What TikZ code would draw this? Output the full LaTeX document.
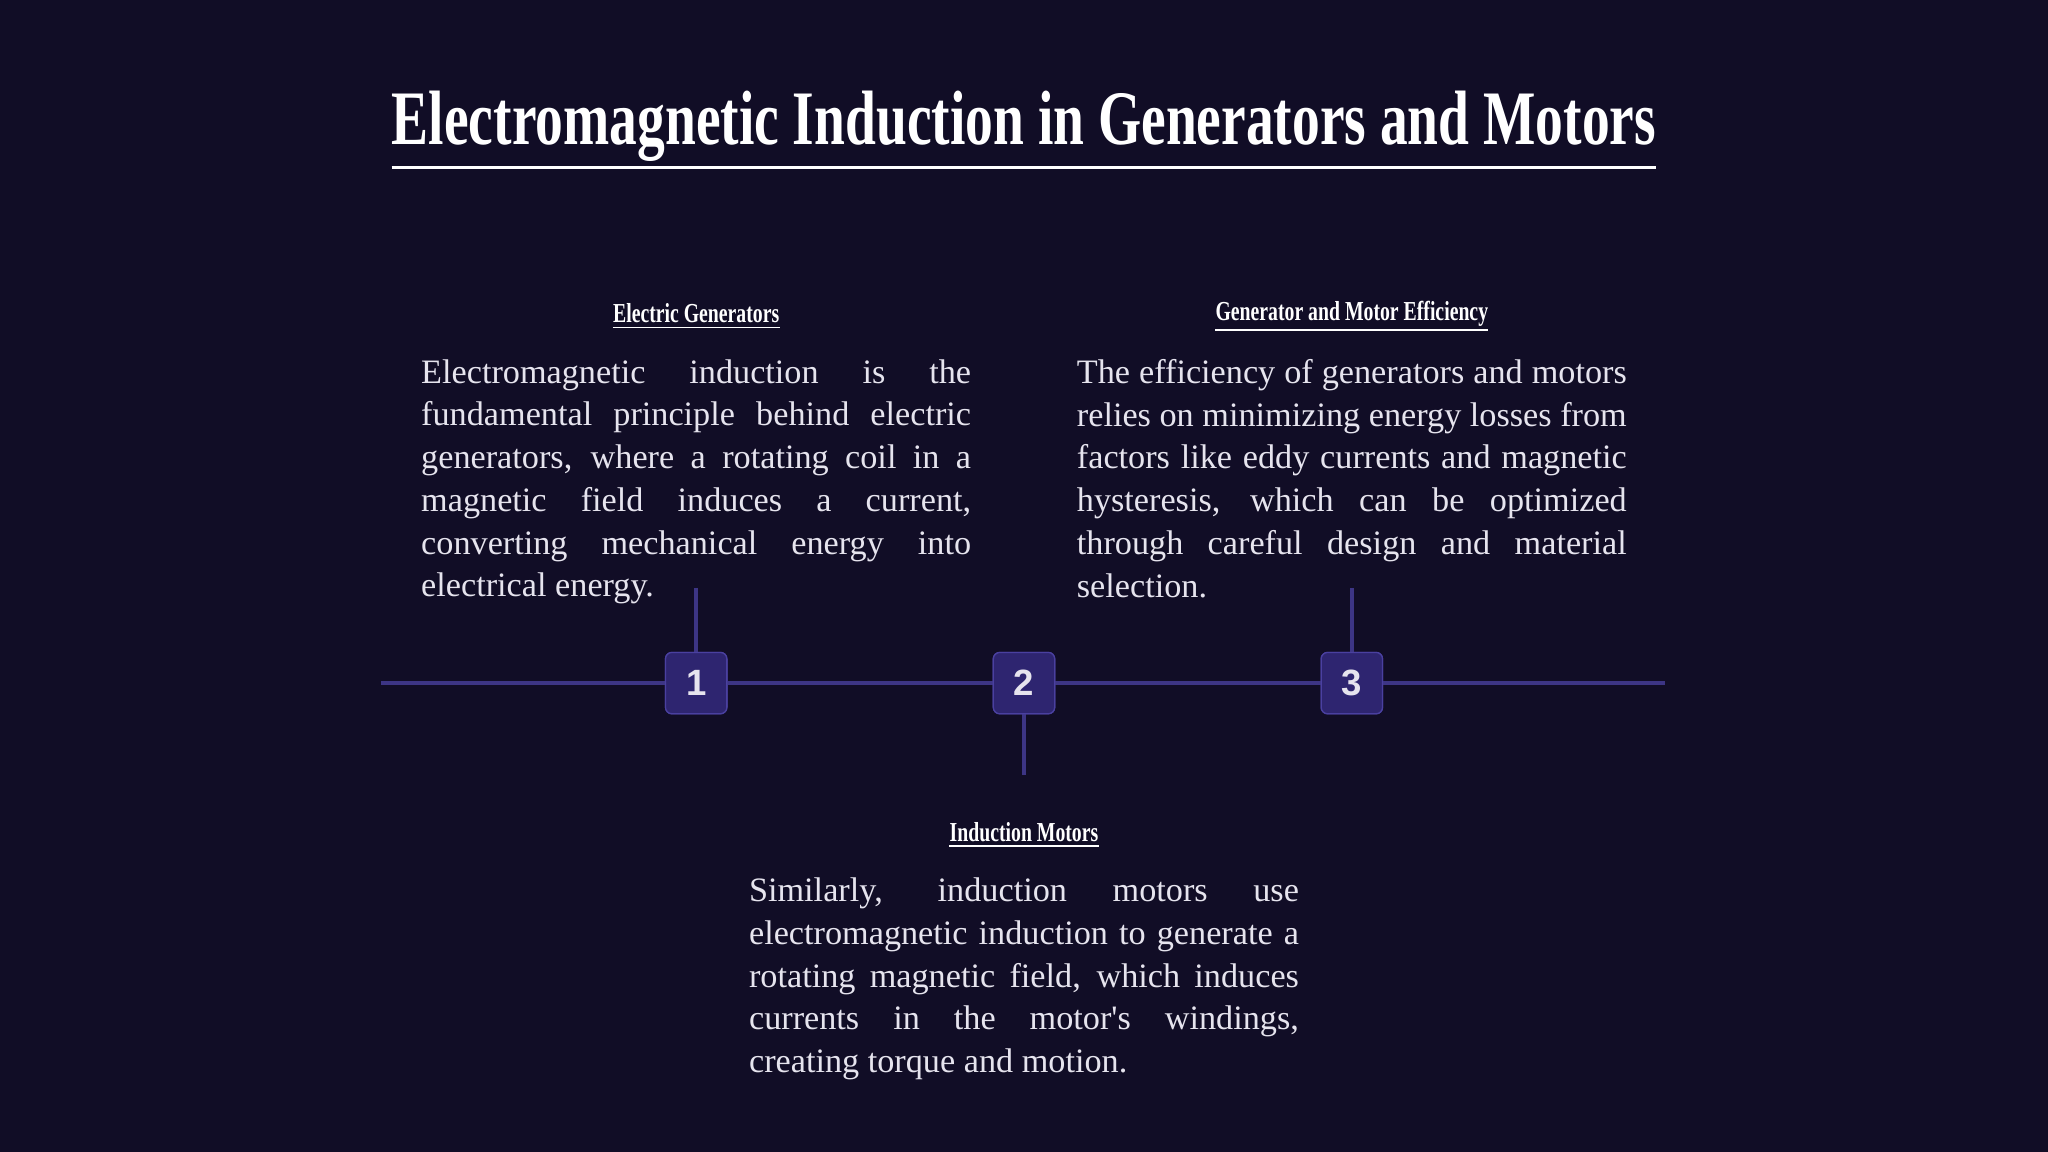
\documentclass[tikz,border=0pt]{standalone}
\usepackage{fontspec}
\setmainfont{Liberation Serif}
\newfontfamily\headfont[FakeStretch=0.72]{Liberation Serif}
\newfontfamily\numfont{Liberation Sans}
\newfontfamily\apofont[Ligatures=TeXOff]{Liberation Serif}
\newcommand\nohy{\hyphenpenalty=10000\exhyphenpenalty=10000\relax}
\definecolor{bg}{HTML}{110D26}
\definecolor{lineC}{HTML}{3D3585}
\definecolor{boxF}{HTML}{2E2570}
\definecolor{boxD}{HTML}{4A40A0}
\definecolor{txt}{HTML}{E6E4EE}
\tikzset{
 body/.style={text=txt,font=\fontsize{26.2}{32.7}\selectfont,text width=421pt,align=justify,inner sep=0pt,anchor=north},
 head/.style={text=white,font=\headfont\bfseries\fontsize{21}{24}\selectfont,inner sep=0pt},
 numbox/.style={draw=boxD,line width=1pt,fill=boxF,rounded corners=5pt,minimum size=47pt,text=txt,font=\numfont\bfseries\fontsize{28}{28}\selectfont},
 tl/.style={draw=lineC,line width=3.5pt},
 ul/.style={draw=white,line width=1.2pt}
}
\begin{document}
\begin{tikzpicture}[x=1pt,y=-1pt]
\fill[bg] (0,0) rectangle (1568,882);
\useasboundingbox (0,0) rectangle (1568,882);
\node[text=white,font=\headfont\bfseries\fontsize{59}{62}\selectfont,inner sep=0pt] (title) at (784,97) {Electromagnetic Induction in Generators and Motors};
\draw[ul,line width=1.8pt] ([yshift=-4pt]title.south west) -- ([yshift=-4pt]title.south east);
% timeline
\coordinate (L) at (292,523); \coordinate (R) at (1275,523);
\node[numbox] (n1) at (533,523) {1};
\node[numbox] (n2) at (784,523) {2};
\node[numbox] (n3) at (1035,523) {3};
\coordinate (s1) at (533,450); \coordinate (s2) at (784,593); \coordinate (s3) at (1035,450);
\draw[tl] (L) -- (n1) -- (n2) -- (n3) -- (R);
\draw[tl] (s1) -- (n1.north); \draw[tl] (s2) -- (n2.south); \draw[tl] (s3) -- (n3.north);
\node[numbox] at (n1) {1};
\node[numbox] at (n2) {2};
\node[numbox] at (n3) {3};
% headings
\node[head] (h1) at (533,240) {Electric Generators};
\draw[ul] ([yshift=-3pt]h1.south west) -- ([yshift=-3pt]h1.south east);
\node[head] (h3) at (1035,240) {Generator and Motor Efficiency};
\draw[ul] ([yshift=-3pt]h3.south west) -- ([yshift=-3pt]h3.south east);
\node[head] (h2) at (784,637) {Induction Motors};
\draw[ul] ([yshift=-3pt]h2.south west) -- ([yshift=-3pt]h2.south east);
% bodies
\node[body] (b1) at (533,275) {\nohy Electromagnetic induction is the\linebreak fundamental principle behind electric\linebreak generators, where a rotating coil in a\linebreak magnetic field induces a current,\linebreak converting mechanical energy into\linebreak electrical energy.};
\node[body] (b3) at (1035,275) {\nohy The efficiency of generators and motors\linebreak relies on minimizing energy losses from\linebreak factors like eddy currents and magnetic\linebreak hysteresis, which can be optimized\linebreak through careful design and material\linebreak selection.};
\node[body] (b2) at (784,672) {\nohy Similarly, induction motors use\linebreak electromagnetic induction to generate a\linebreak rotating magnetic field, which induces\linebreak currents in the motor{\apofont'}s windings,\linebreak creating torque and motion.};
\end{tikzpicture}
\end{document}
